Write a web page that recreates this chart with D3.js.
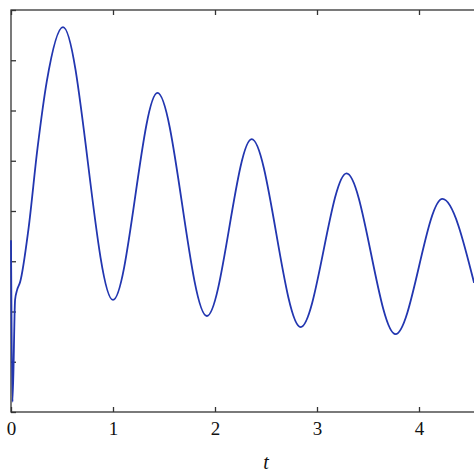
<!DOCTYPE html>
<html>
<head>
<meta charset="utf-8">
<script src="https://cdn.jsdelivr.net/npm/d3@7"></script>
<style>
  body { margin: 0; background: #fff; }
  svg { display: block; }
</style>
</head>
<body>
<svg id="chart" width="474" height="474"></svg>
<script>
// values (y in arbitrary units, 8 tick intervals)
var tValues = [0, 0.015, 0.04, 0.06, 0.09, 0.17, 0.26, 0.35, 0.51,
    1.0, 1.436, 1.92, 2.36, 2.84, 3.29, 3.77, 4.23, 4.54];
var yValues = [3.42, 0.20, 2.23, 2.43, 2.59, 3.62, 5.25, 6.57, 7.66,
    2.23, 6.35, 1.91, 5.43, 1.69, 4.75, 1.55, 4.24, 2.57];
var xTicks = [0, 1, 2, 3, 4];
var yTicks = [0, 1, 2, 3, 4, 5, 6, 7, 8];

var data = tValues.map(function (t, i) {
    return { t: t, y: yValues[i] };
});

var svg = d3.select("#chart"),
    MARGINS = { top: 10, left: 11, bottom: 412, right: 521 },
    xScale = d3.scaleLinear().domain([0, 5]).range([MARGINS.left, MARGINS.right]),
    yScale = d3.scaleLinear().domain([0, 8]).range([MARGINS.bottom, MARGINS.top]);

var axisColor = "#333";

// frame
svg.append("rect")
    .attr("x", MARGINS.left)
    .attr("y", MARGINS.top)
    .attr("width", MARGINS.right - MARGINS.left)
    .attr("height", MARGINS.bottom - MARGINS.top)
    .attr("fill", "none")
    .attr("stroke", axisColor)
    .attr("stroke-width", 1.3);

var xAxis = d3.axisBottom(xScale).tickValues(xTicks).tickSize(-5).tickPadding(10)
    .tickFormat(d3.format("d"));
var xTop = d3.axisTop(xScale).tickValues(xTicks).tickSize(-5).tickFormat("");
var yAxis = d3.axisLeft(yScale).tickValues(yTicks).tickSize(-5).tickFormat("");

function styleAxis(g) {
    g.select(".domain").remove();
    g.selectAll(".tick line").attr("stroke", axisColor).attr("stroke-width", 1.3);
    g.selectAll(".tick text")
        .attr("fill", "#111")
        .style("font-family", "'Liberation Serif', 'DejaVu Serif', serif")
        .style("font-size", "19px");
}

svg.append("g")
    .attr("transform", "translate(0," + MARGINS.bottom + ")")
    .call(xAxis).call(styleAxis);
svg.append("g")
    .attr("transform", "translate(0," + MARGINS.top + ")")
    .call(xTop).call(styleAxis);
svg.append("g")
    .attr("transform", "translate(" + MARGINS.left + ",0)")
    .call(yAxis).call(styleAxis);

// axis label
svg.append("text")
    .attr("x", (MARGINS.left + MARGINS.right) / 2)
    .attr("y", 469)
    .attr("text-anchor", "middle")
    .style("font-family", "'Liberation Serif', 'DejaVu Serif', serif")
    .style("font-style", "italic")
    .style("font-size", "20px")
    .attr("fill", "#111")
    .text("t");

var lineGen = d3.line()
    .curve(d3.curveMonotoneX)
    .x(function (d) { return xScale(d.t); })
    .y(function (d) { return yScale(d.y); });

svg.append("path")
    .attr("d", lineGen(data))
    .attr("stroke", "#2236b0")
    .attr("stroke-width", 1.8)
    .attr("fill", "none");
</script>
</body>
</html>
